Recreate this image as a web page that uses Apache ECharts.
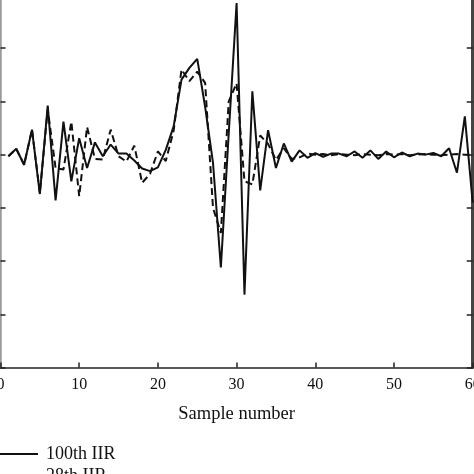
<!DOCTYPE html>
<html>
<head>
<meta charset="utf-8">
<script src="https://cdn.jsdelivr.net/npm/echarts@6/dist/echarts.min.js"></script>
<style>
html,body{margin:0;padding:0;width:474px;height:474px;overflow:hidden;background:#fff;}
#chart{position:absolute;left:-50px;top:-60px;width:574px;height:594px;}
</style>
</head>
<body>
<div id="chart"></div>
<script>
// Sample numbers 0..60
var sampleNumbers = [];
for (var k = 0; k <= 60; k++) sampleNumbers.push(k);

// 100th IIR (solid)
var iir100 = [null,
  -0.03, 0.11, -0.19, 0.47, -0.74, 0.92, -0.86, 0.62, -0.50, 0.31,
  -0.25, 0.23, -0.03, 0.19, 0.02, 0.02, -0.11, -0.26, -0.31, -0.24,
  0.09, 0.53, 1.41, 1.63, 1.80, 0.90, -0.15, -2.12, 0.40, 2.85,
  -2.63, 1.19, -0.67, 0.46, -0.25, 0.21, -0.13, 0.08, -0.06, 0.03,
  -0.04, 0.02, 0.02, -0.03, 0.06, -0.06, 0.08, -0.08, 0.06, -0.05,
  0.04, -0.03, 0.02, 0.00, 0.03, -0.03, 0.12, -0.34, 0.72, -0.90];

// 28th IIR (dashed)
var iir28 = [null,
  -0.03, 0.11, -0.19, 0.47, -0.72, 0.85, -0.25, -0.28, 0.62, -0.78,
  0.52, -0.08, -0.09, 0.47, -0.03, -0.13, 0.17, -0.53, -0.36, 0.06,
  -0.12, 0.45, 1.60, 1.38, 1.56, 1.35, -1.00, -1.47, 1.00, 1.34,
  -0.50, -0.56, 0.36, 0.20, -0.10, 0.12, -0.08, -0.05, 0.02, 0.00,
  0.01, -0.01, 0.01, 0.00, -0.01, 0.01, 0.00, -0.01, 0.01, 0.00,
  0.01, -0.01, 0.00, 0.01, 0.00, -0.01, 0.00, 0.01, 0.00, 0.00];

var xTicks = [0, 10, 20, 30, 40, 50, 60];
var seriesNames = ['100th IIR', '28th IIR'];

function pairs(arr) {
  return sampleNumbers.map(function (n, i) { return [n, arr[i]]; });
}

var serif = '"Liberation Serif", "DejaVu Serif", serif';
var chart = echarts.init(document.getElementById('chart'), null, {renderer: 'canvas'});
chart.setOption({
  animation: false,
  backgroundColor: '#fff',
  grid: {left: 50.5, right: 51.3, top: 55, bottom: 166.5, containLabel: false},
  legend: {
    orient: 'vertical',
    left: 44,
    top: 500,
    itemWidth: 38,
    itemHeight: 14,
    itemGap: 4,
    itemStyle: {opacity: 0},
    textStyle: {fontFamily: serif, fontSize: 18, color: '#111', padding: [0, 0, 0, 3]},
    data: seriesNames
  },
  xAxis: {
    type: 'value',
    min: 0, max: 60, interval: 10,
    name: 'Sample number',
    nameLocation: 'middle',
    nameGap: 37,
    nameTextStyle: {fontFamily: serif, fontSize: 18.5, color: '#111'},
    axisLine: {show: true, onZero: false, lineStyle: {color: '#222', width: 1.5}},
    axisTick: {show: true, inside: true, length: 5, lineStyle: {color: '#222', width: 1.5}},
    axisLabel: {fontFamily: serif, fontSize: 16, color: '#111', margin: 9},
    splitLine: {show: false}
  },
  yAxis: [{
    type: 'value',
    min: -4, max: 3, interval: 1,
    position: 'left',
    axisLine: {show: true, onZero: false, lineStyle: {color: '#9a9a9a', width: 2.5}},
    axisTick: {show: true, inside: true, length: 5, lineStyle: {color: '#222', width: 1.5}},
    axisLabel: {show: false},
    splitLine: {show: false}
  }, {
    type: 'value',
    min: -4, max: 3, interval: 1,
    position: 'right',
    axisLine: {show: true, onZero: false, lineStyle: {color: '#444', width: 3}},
    axisTick: {show: true, inside: true, length: 6, lineStyle: {color: '#222', width: 1.5}},
    axisLabel: {show: false},
    splitLine: {show: false}
  }],
  series: [{
    name: seriesNames[0],
    type: 'line',
    data: pairs(iir100),
    showSymbol: false,
    symbol: 'none',
    lineStyle: {color: '#111', width: 2, type: 'solid'},
    itemStyle: {color: '#111'},
    z: 3
  }, {
    name: seriesNames[1],
    type: 'line',
    data: pairs(iir28),
    showSymbol: false,
    symbol: 'none',
    lineStyle: {color: '#111', width: 2, type: [7, 4]},
    itemStyle: {color: '#111'},
    z: 2
  }]
});
</script>
</body>
</html>
